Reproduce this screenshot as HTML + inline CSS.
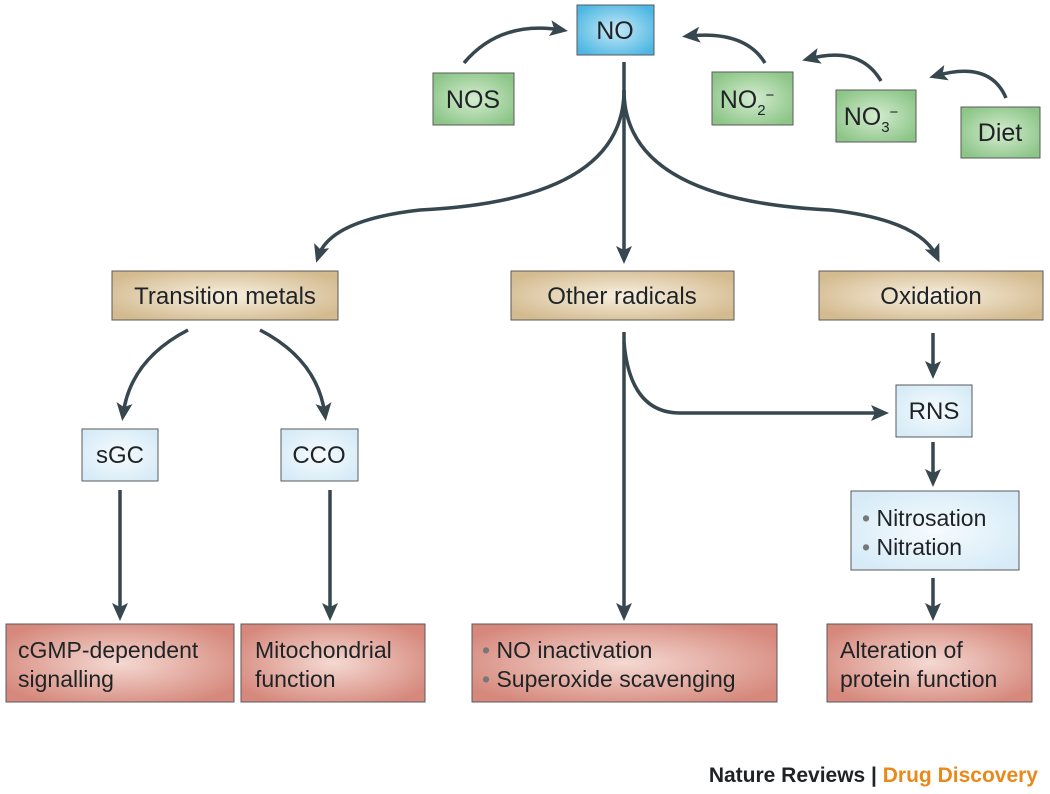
<!DOCTYPE html>
<html><head><meta charset="utf-8"><style>
html,body{margin:0;padding:0;background:#fff;}
svg{display:block;}
text{font-family:"Liberation Sans",sans-serif;fill:#1f2326;}
</style></head><body>
<svg width="1050" height="794" viewBox="0 0 1050 794" xmlns="http://www.w3.org/2000/svg">
<defs>
<radialGradient id="g" cx="50%" cy="50%" r="60%"><stop offset="0" stop-color="#d4ecd0"/><stop offset="1" stop-color="#8cc587"/></radialGradient>
<radialGradient id="b" cx="50%" cy="50%" r="60%"><stop offset="0" stop-color="#c7e9f7"/><stop offset="1" stop-color="#4db7e3"/></radialGradient>
<radialGradient id="t" cx="50%" cy="50%" r="60%"><stop offset="0" stop-color="#f8f0e0"/><stop offset="1" stop-color="#d3ba8f"/></radialGradient>
<radialGradient id="l" cx="50%" cy="50%" r="60%"><stop offset="0" stop-color="#f6fbfe"/><stop offset="1" stop-color="#d6ebf7"/></radialGradient>
<radialGradient id="r" cx="50%" cy="50%" r="60%"><stop offset="0" stop-color="#f4d9d2"/><stop offset="1" stop-color="#d6887c"/></radialGradient>
<marker id="ah" markerWidth="20" markerHeight="20" refX="12" refY="8" orient="auto" markerUnits="userSpaceOnUse" viewBox="0 0 20 20"><path d="M0,0 L18,8 L0,16 L4,8 z" fill="#37474f"/></marker>
</defs>
<g stroke="#5a5a5a" stroke-width="1">
<rect x="577" y="5" width="77" height="50" fill="url(#b)"/>
<rect x="433" y="73" width="81" height="52" fill="url(#g)"/>
<rect x="712" y="72" width="81" height="53" fill="url(#g)"/>
<rect x="836" y="90" width="80" height="52" fill="url(#g)"/>
<rect x="961" y="107" width="79" height="51" fill="url(#g)"/>
<rect x="112" y="271" width="226" height="49" fill="url(#t)"/>
<rect x="511" y="271" width="223" height="49" fill="url(#t)"/>
<rect x="819" y="271" width="224" height="49" fill="url(#t)"/>
<rect x="82" y="429" width="76" height="52" fill="url(#l)"/>
<rect x="281" y="429" width="77" height="52" fill="url(#l)"/>
<rect x="896" y="385" width="76" height="52" fill="url(#l)"/>
<rect x="851" y="491" width="168" height="79" fill="url(#l)"/>
<rect x="6" y="624" width="228" height="78" fill="url(#r)"/>
<rect x="241" y="624" width="184" height="78" fill="url(#r)"/>
<rect x="472" y="624" width="305" height="78" fill="url(#r)"/>
<rect x="827" y="624" width="205" height="78" fill="url(#r)"/>
</g>
<g fill="none" stroke="#37474f" stroke-width="3.5" marker-end="url(#ah)">
<path d="M464,63 Q500,20 562,30"/>
<path d="M765,63 Q745,30 688,36"/>
<path d="M881,81 Q860,45 808,59"/>
<path d="M1006,98 Q990,60 935,76"/>
<path d="M624,62 L624,258"/>
<path d="M624,90 Q624,200 420,210 Q330,220 318,257"/>
<path d="M624,90 Q624,200 830,210 Q920,220 937,257"/>
<path d="M188,330 Q130,360 123,415"/>
<path d="M260,330 Q318,360 325,415"/>
<path d="M624,332 L624,615"/>
<path d="M624,342 Q630,413 680,413 L883,413"/>
<path d="M933,333 L933,373"/>
<path d="M933,442 L933,481"/>
<path d="M933,578 L933,615"/>
<path d="M120,490 L120,615"/>
<path d="M330,490 L330,615"/>
</g>
<g font-size="24" text-anchor="middle">
<text x="615" y="39" font-size="25">NO</text>
<text x="473" y="108" font-size="25">NOS</text>
<text x="747" y="108" font-size="25">NO<tspan font-size="15" dy="7">2</tspan><tspan font-size="15" dy="-15">−</tspan></text>
<text x="871" y="125" font-size="25">NO<tspan font-size="15" dy="7">3</tspan><tspan font-size="15" dy="-15">−</tspan></text>
<text x="1000" y="141" font-size="25">Diet</text>
<text x="225" y="304">Transition metals</text>
<text x="622" y="304">Other radicals</text>
<text x="931" y="304">Oxidation</text>
<text x="120" y="463">sGC</text>
<text x="319" y="463">CCO</text>
<text x="934" y="419">RNS</text>
</g>
<g font-size="23">
<text x="862" y="526"><tspan fill="#777">•</tspan> Nitrosation</text>
<text x="862" y="555"><tspan fill="#777">•</tspan> Nitration</text>
<text x="18" y="658">cGMP-dependent</text>
<text x="18" y="687">signalling</text>
<text x="255" y="658">Mitochondrial</text>
<text x="255" y="687">function</text>
<text x="482" y="658"><tspan fill="#777">•</tspan> NO inactivation</text>
<text x="482" y="687"><tspan fill="#777">•</tspan> Superoxide scavenging</text>
<text x="840" y="658">Alteration of</text>
<text x="840" y="687">protein function</text>
</g>
<text x="1038" y="782" font-size="21" font-weight="bold" text-anchor="end">Nature Reviews | <tspan fill="#e8891a">Drug Discovery</tspan></text>
</svg>
</body></html>
